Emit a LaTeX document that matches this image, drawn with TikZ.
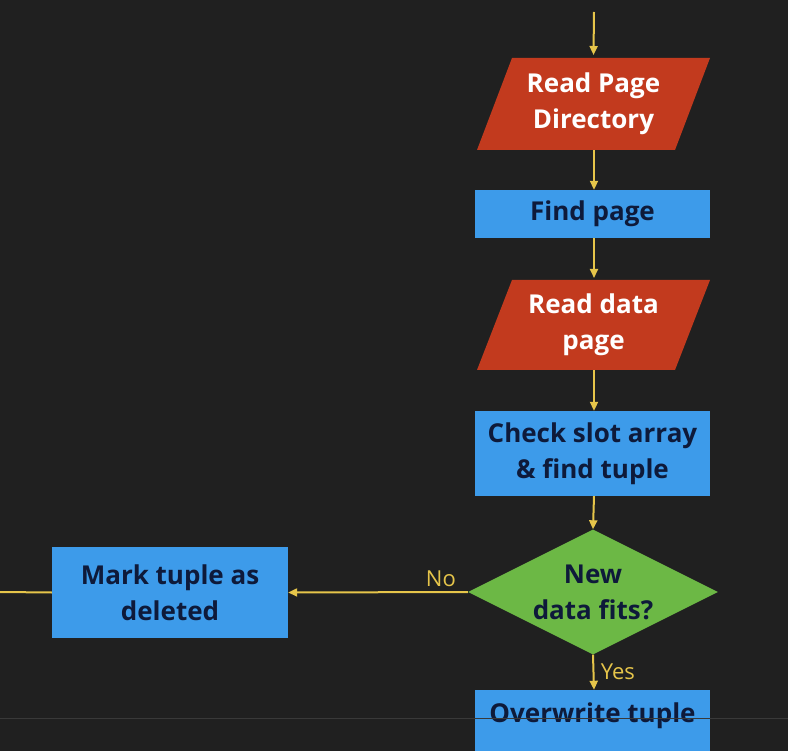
\documentclass[tikz,border=0pt]{standalone}
\usepackage{fontspec}
\setmainfont{Open Sans}
\usetikzlibrary{arrows.meta,shapes.geometric}
\definecolor{bg}{HTML}{202020}
\definecolor{pred}{HTML}{C23A1E}
\definecolor{pblue}{HTML}{3D9BEA}
\definecolor{pgreen}{HTML}{6CB845}
\definecolor{pyel}{HTML}{E6C54A}
\definecolor{navy}{HTML}{0E1A3A}
\tikzset{
 every node/.style={font=\bfseries\fontsize{26}{36}\selectfont, align=center},
 bluebox/.style={fill=pblue, text=navy, inner sep=0},
 conn/.style={draw=pyel, line width=2pt, -{Triangle[length=9pt,width=8pt]}},
 lab/.style={text=pyel, font=\fontsize{22}{26}\selectfont}
}
\begin{document}
\begin{tikzpicture}[x=1pt,y=-1pt]
\fill[bg] (0,0) rectangle (788,751);
\useasboundingbox (0,0) rectangle (788,751);
\coordinate (top) at (594,12);
\fill[pred] (512,58) -- (710,58) -- (675,150) -- (477,150) -- cycle;
\node[text=white, minimum width=198, minimum height=92] (rpd) at (593.5,104) {Read Page\\Directory};
\node[bluebox, minimum width=235, minimum height=48] (fp) at (592.5,214) {Find page};
\fill[pred] (512,280) -- (710,280) -- (675,370) -- (477,370) -- cycle;
\node[text=white, minimum width=198, minimum height=90] (rdp) at (593.5,325) {Read data\\page};
\node[bluebox, minimum width=235, minimum height=85] (csa) at (592.5,453.5) {Check slot array\\\& find tuple};
\node[diamond, fill=pgreen, text=navy, minimum width=250, minimum height=125, inner sep=0, aspect=2] (nd) at (593,592) {};
\node[text=navy] at (nd) {New\\data fits?};
\node[bluebox, minimum width=236, minimum height=91] (mt) at (170,592.5) {Mark tuple as\\deleted};
\node[bluebox, minimum width=235, minimum height=62] (ow) at (592.5,721) {};
\node[text=navy] at (592.5,716) {Overwrite tuple};
\coordinate (left) at (0,592);
\draw[conn] (top) -- (rpd.south |- 0,55);
\draw[conn] (594,150) -- (fp.north -| 594,0);
\draw[conn] (fp.south -| 594,0) -- (594,278);
\draw[conn] (594,370) -- (csa.north -| 594,0);
\draw[conn] (csa.south -| 594,0) -- (nd.north);
\draw[conn] (nd.west) -- node[lab, above, pos=0.15, yshift=1pt]{No} (mt.east);
\draw[draw=pyel, line width=2pt] (mt.west) -- (left);
\draw[conn] (nd.south) -- node[lab, right, xshift=3pt]{Yes} (ow.north -| 594,0);
\draw[gray!45!black, line width=1pt] (0,718) -- (788,718);
\end{tikzpicture}
\end{document}
